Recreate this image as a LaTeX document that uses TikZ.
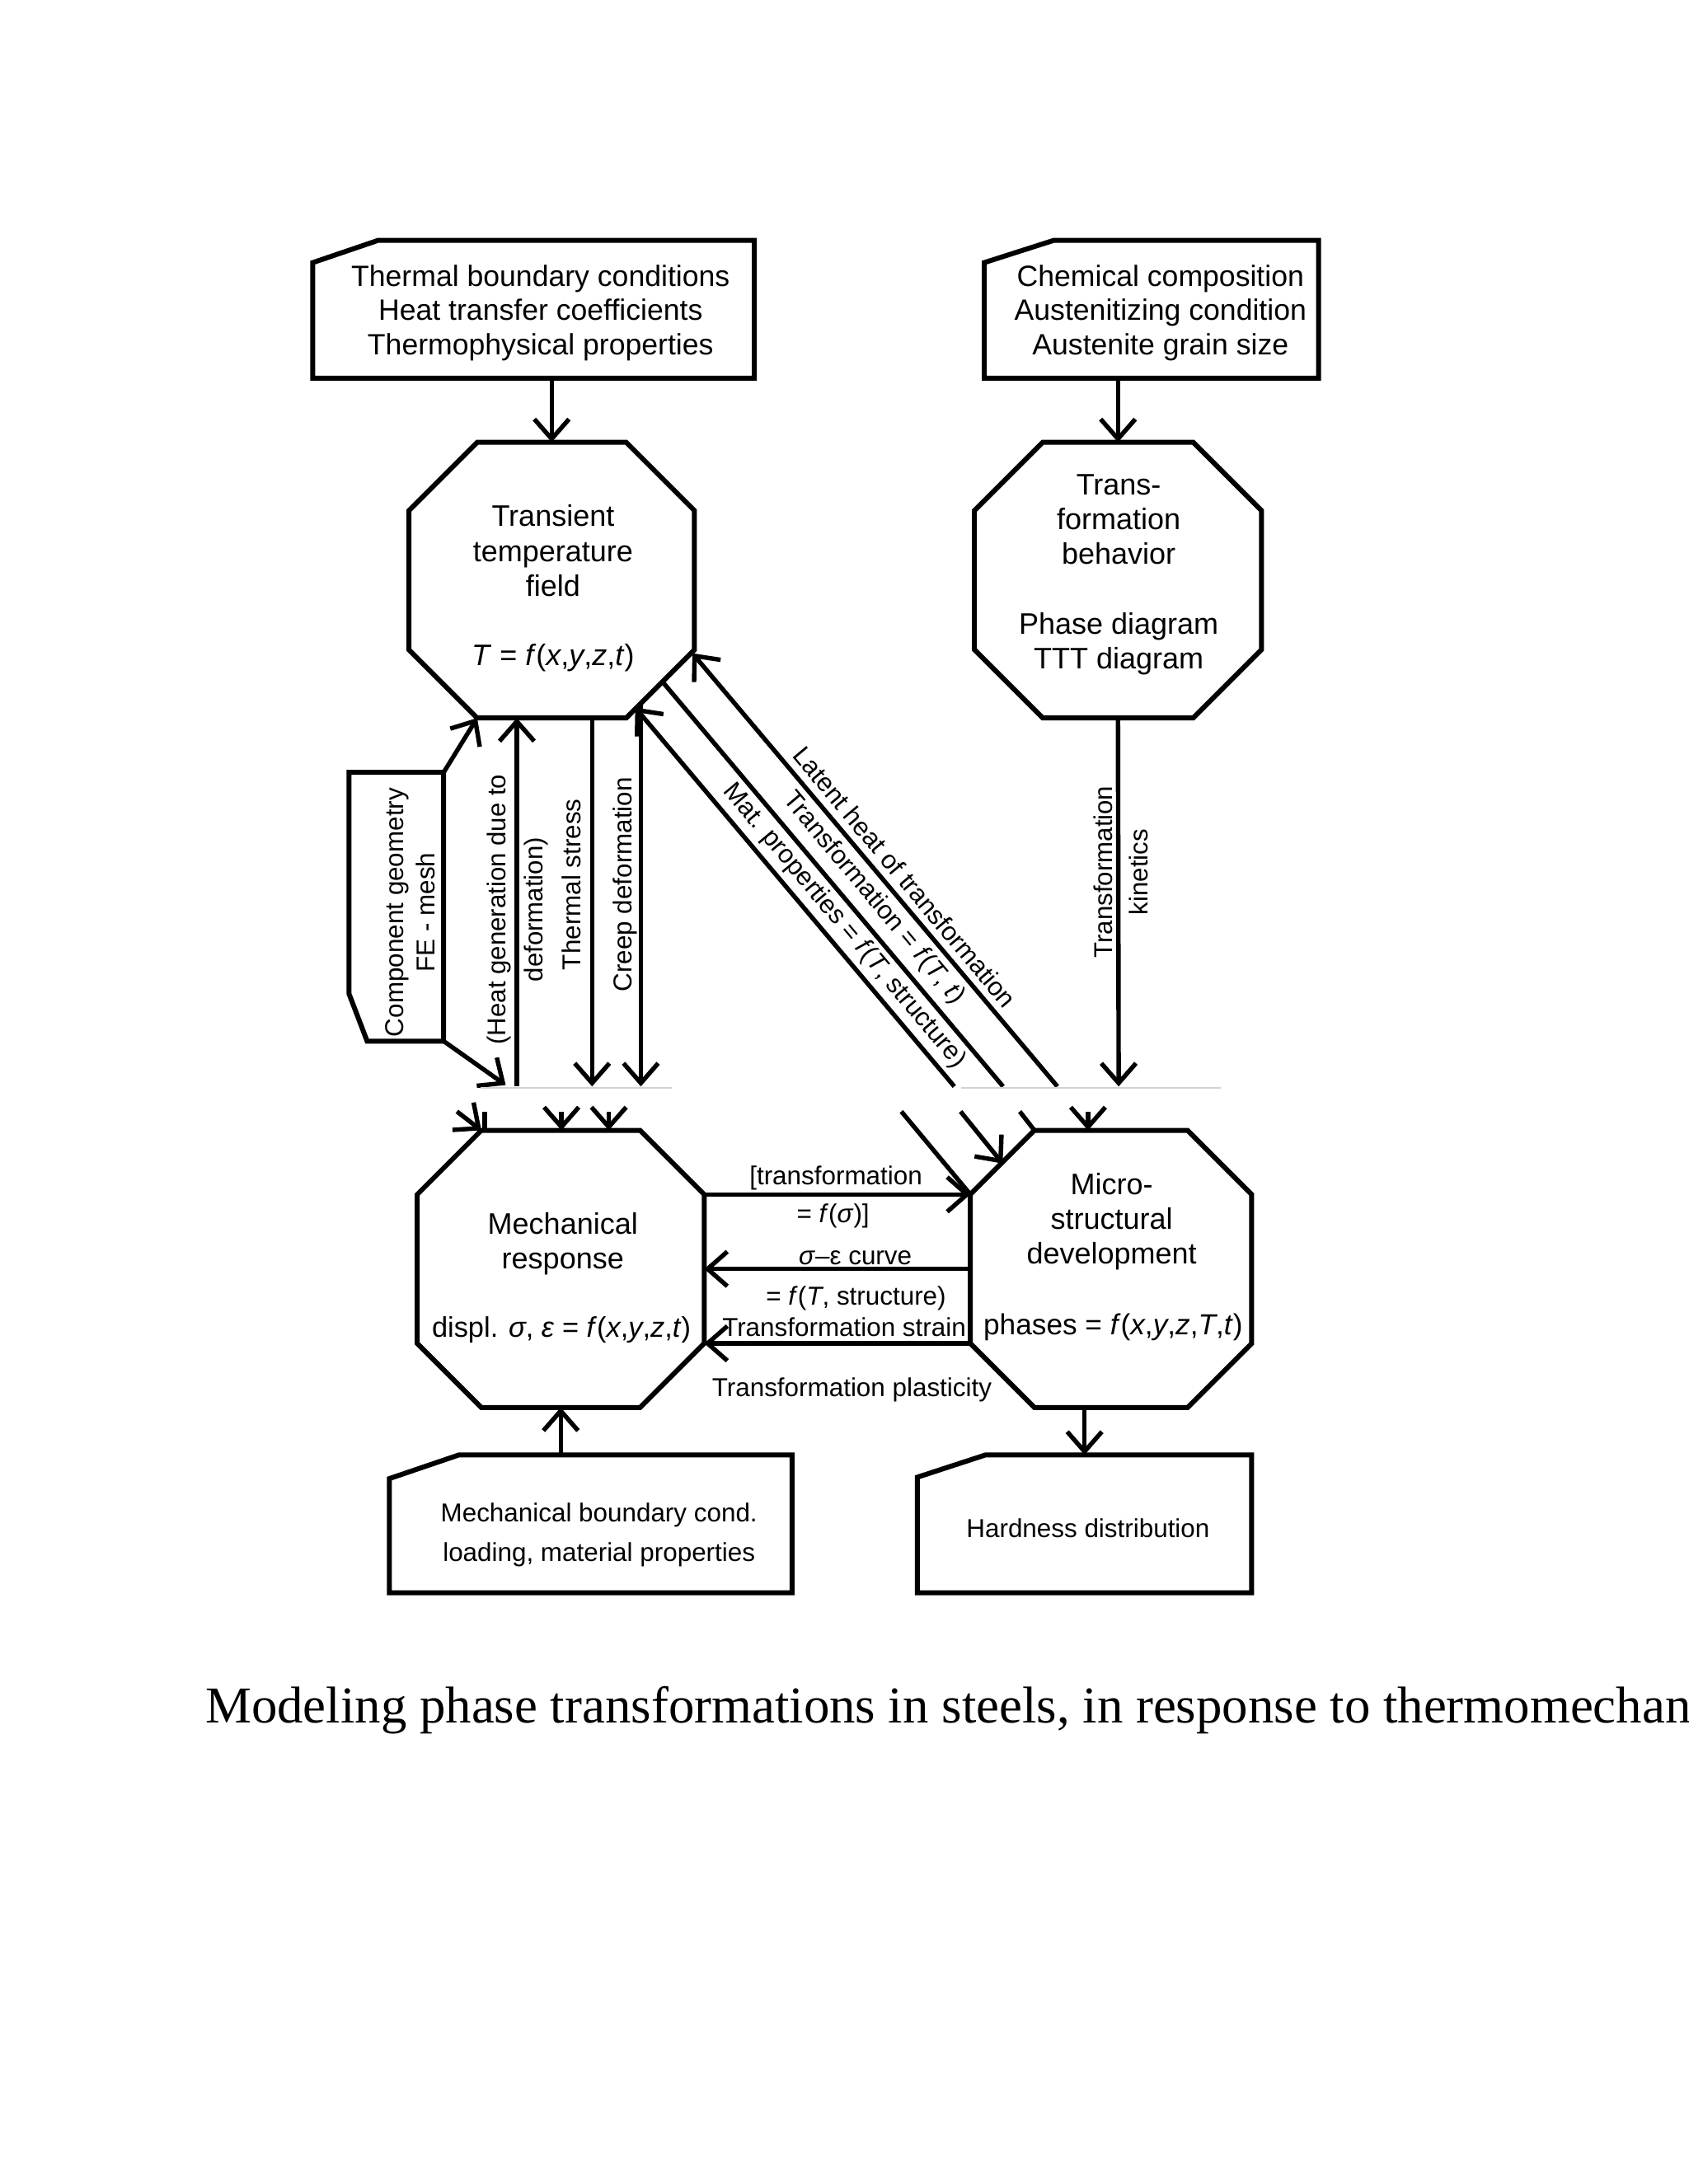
\documentclass[tikz,border=0pt]{standalone}
\usepackage{fontspec}
\setmainfont{Liberation Sans}
\newfontfamily\capfont{Liberation Serif}
\usetikzlibrary{arrows.meta,calc,fit}
\newcommand{\chbox}[3]{\draw[shp] ($(#1.north west)+(#2,0)$) -- (#1.north east) -- (#1.south east) -- (#1.south west) -- ($(#1.north west)+(0,#3)$) -- cycle;}
\newcommand{\octo}[2]{\draw[shp] ($(#1.north west)+(#2,0)$) -- ($(#1.north east)+(-#2,0)$) -- ($(#1.north east)+(0,#2)$) -- ($(#1.south east)+(0,-#2)$) -- ($(#1.south east)+(-#2,0)$) -- ($(#1.south west)+(#2,0)$) -- ($(#1.south west)+(0,-#2)$) -- ($(#1.north west)+(0,#2)$) -- cycle;}
\begin{document}
\begin{tikzpicture}[x=0.4224pt,y=-0.4224pt,
 shp/.style={line width=1.5pt, line join=miter},
 con/.style={line width=1.35pt},
 arr/.style={con,-{Straight Barb[length=6pt,width=10.5pt]}},
 zone/.style={inner sep=0pt, draw=none},
 bigt/.style={inner sep=0pt, align=center, font=\fontsize{8.9}{10.4}\selectfont},
 octt/.style={inner sep=0pt, align=center, font=\fontsize{9}{10.56}\selectfont},
 smallt/.style={inner sep=0pt, align=center, font=\fontsize{7.85}{10}\selectfont},
]
\useasboundingbox (0,0) rectangle (1212,1568);
\fill[white] (0,0) rectangle (1212,1568);

% ---------- top boxes
\node[zone, fit={(225,173) (541,271)}] (tlb) {};
\chbox{tlb}{47}{16}
\node[bigt] (tlt) at (388,224.5) {Thermal boundary conditions\\Heat transfer coefficients\\Thermophysical properties};
\node[zone, fit={(707,173) (946,271)}] (trb) {};
\chbox{trb}{50}{16}
\node[bigt] (trt) at (833,224.5) {Chemical composition\\Austenitizing condition\\Austenite grain size};

% ---------- octagons
\node[zone, fit={(294,318) (498,515)}] (tt) {};
\octo{tt}{49}
\node[octt] (ttt) at (397,422.5) {Transient\\temperature\\field\\[10.56pt]\textit{T} = \textit{f}(\textit{x},\textit{y},\textit{z},\textit{t})};
\node[zone, fit={(700,318) (905,515)}] (tb) {};
\octo{tb}{49}
\node[octt] (tbt) at (803,412.5) {Trans-\\formation\\behavior\\[10.56pt]Phase diagram\\TTT diagram};

\node[zone, fit={(300,812) (505,1010)}] (mr) {};
\octo{mr}{46}
\node[octt] (mrt) at (404,893) {Mechanical\\response};
\node[smallt, font=\fontsize{8.6}{10}\selectfont] (mrf) at (403,955) {displ. \textit{σ}, \textit{ε} = \textit{f}(\textit{x},\textit{y},\textit{z},\textit{t})};
\node[zone, fit={(697,812) (898,1010)}] (md) {};
\octo{md}{46}
\node[octt] (mdt) at (798,877) {Micro-\\structural\\development};
\node[smallt, font=\fontsize{8.8}{10}\selectfont] (mdf) at (799,953) {phases = \textit{f}(\textit{x},\textit{y},\textit{z},\textit{T},\textit{t})};

% ---------- bottom boxes
\node[zone, fit={(280,1045) (568,1143)}] (mbb) {};
\chbox{mbb}{50}{17}
\node[smallt, font=\fontsize{7.85}{11.8}\selectfont] (mbt) at (430,1102) {Mechanical boundary cond.\\loading, material properties};
\node[zone, fit={(659,1045) (898,1143)}] (hdb) {};
\chbox{hdb}{49}{16}
\node[smallt] (hdt) at (781,1097) {Hardness distribution};

% ---------- component box (rotated)
\node[zone, fit={(251,555) (318,747)}] (comp) {};
\draw[shp] (comp.north west) -- (comp.north east) -- (comp.south east) -- ($(comp.south west)+(13,0)$) -- ($(comp.south west)+(0,-34)$) -- cycle;
\node[smallt, rotate=90, font=\fontsize{7.85}{9.7}\selectfont] (compt) at (294.5,655) {Component geometry\\FE - mesh};

% ---------- top connectors
\draw[arr] (tlb.south -| tt.north) -- (tt.north);
\draw[arr] (trb.south -| tb.north) -- (tb.north);

\coordinate (ttBL) at ($(tt.south west)+(49,0)$);
\coordinate (cgB) at (363,779);
\coordinate (hgB) at (371,780);
\coordinate (tsB) at (425,780);
\coordinate (cdT) at (460,504);
\coordinate (cdB) at (460,780);
\coordinate (tkB) at (803,780);
\draw[arr] (comp.north east) -- (ttBL);
\draw[arr] (comp.south east) -- (cgB);
\draw[arr] (hgB) -- (hgB |- tt.south);
\draw[arr] (tsB |- tt.south) -- (tsB);
\draw[arr] (cdT) -- (cdB);
\draw[arr] (tb.south) -- (tkB);

\coordinate (latT) at (497,469);
\coordinate (latB) at (759,780);
\coordinate (trT) at (476,490);
\coordinate (trB) at (720,780);
\coordinate (matT) at (456,508);
\coordinate (matB) at (685,780);
\draw[arr] (latB) -- (latT);
\draw[con] (trT) -- (trB);
\draw[arr] (matB) -- (matT);

% faint splice edge
\draw[gray!35, line width=0.5pt] (345,781) -- (482,781);
\draw[gray!35, line width=0.5pt] (690,781) -- (876,781);

% ---------- lower stubs
\coordinate (mrTL) at ($(mr.north west)+(46,0)$);
\coordinate (s1) at (328,798);
\coordinate (s2) at (348,798);
\coordinate (s3) at (403,798);
\coordinate (s4) at (437,798);
\draw[arr] (s1) -- (mrTL);
\draw[con] (s2) -- (s2 |- mr.north);
\draw[arr] (s3) -- (s3 |- mr.north);
\draw[arr] (s4) -- (s4 |- mr.north);
\coordinate (s5) at (781,798);
\draw[arr] (s5) -- (s5 |- md.north);
\coordinate (mdL) at ($(md.north west)+(0,46)$);
\coordinate (mdT) at ($(md.north west)+(46,0)$);
\coordinate (mdC) at (719.7,835.3);
\coordinate (sA) at (647,798);
\coordinate (sB) at (689.5,798);
\coordinate (sC) at (732,798);
\draw[con] (sA) -- (mdL);
\draw[arr] (sB) -- (mdC);
\draw[con] (sC) -- (mdT);

% ---------- horizontal connectors
\draw[arr] ($(mr.north east)+(0,46)$) -- (mdL);
\draw[arr] (md.west) -- (mr.east);
\draw[arr] ($(md.south west)+(0,-46)$) -- ($(mr.south east)+(0,-46)$);

% ---------- bottom connectors
\draw[arr] (mbb.north -| mr.south) -- (mr.south);
\draw[arr] (md.south -| hdb.north) -- (hdb.north);

% ---------- labels
\node[smallt, rotate=90, font=\fontsize{7.8}{11.4}\selectfont] (lhg) at (371.5,653) {(Heat generation due to\\deformation)};
\node[smallt, rotate=90] (lts) at (410,635) {Thermal stress};
\node[smallt, rotate=90] (lcd) at (449,635) {Creep deformation};
\node[smallt, rotate=90, font=\fontsize{7.8}{10.6}\selectfont] (ltk) at (804.5,626) {Transformation\\kinetics};
\node[smallt, rotate=-50] (llh) at (649.5,629.5) {Latent heat of transformation};
\node[smallt, rotate=-50] (ltr) at (627,645) {Transformation = \textit{f}(\textit{T}, \textit{t})};
\node[smallt, rotate=-50] (lmp) at (606,665) {Mat. properties = \textit{f}(\textit{T}, structure)};

\node[smallt] (h1) at (600,846) {[transformation};
\node[smallt] (h2) at (598,873) {= \textit{f}(\textit{σ})]};
\node[smallt] (h3) at (614,903) {\textit{σ}–ε curve};
\node[smallt] (h4) at (614.5,932) {= \textit{f}(\textit{T}, structure)};
\node[smallt, anchor=west] (h5) at (518,953) {Transformation strain};
\node[smallt] (h6) at (611.5,998) {Transformation plasticity};

% ---------- caption
\node[anchor=base west, inner sep=0pt, font=\capfont\fontsize{15.7}{18}\selectfont] (cap) at (147,1237) {Modeling phase transformations in steels, in response to thermomechan};
\end{tikzpicture}
\end{document}
